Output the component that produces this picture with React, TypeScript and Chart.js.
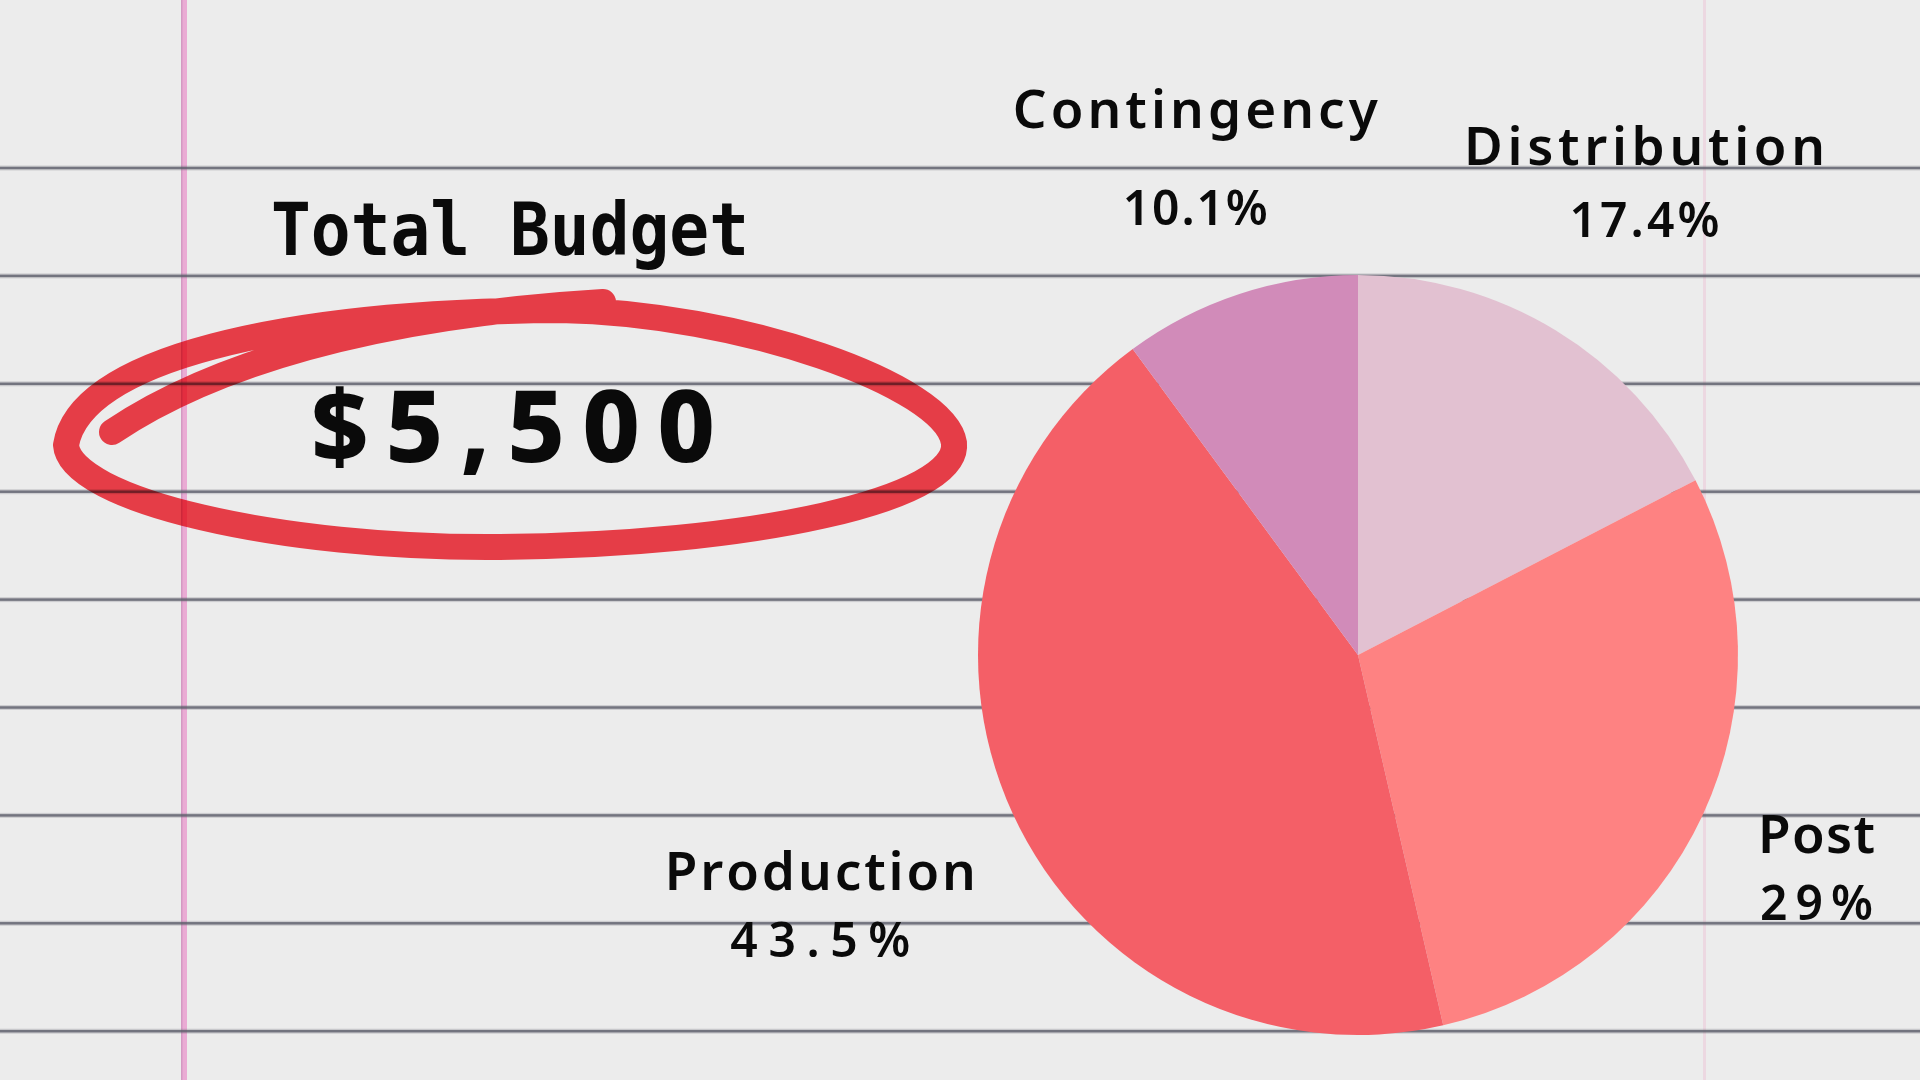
import React, { useEffect, useRef } from "react";
import { Chart, registerables } from "chart.js";

Chart.register(...registerables);

// ---- data ----
const categories = ["Distribution", "Post", "Production", "Contingency"];
const shares = [17.4, 29, 43.5, 10.1];
const percentLabels = ["17.4%", "29%", "43.5%", "10.1%"];
const sliceColors = ["#e2c1d1", "#fe8282", "#f45f67", "#d18bb9"];
const totalTitle = "Total Budget";
const totalValue = "$5,500";

// ---- style / placement (not data) ----
const W = 1920;
const H = 1080;
const labelPlacement = [
  { k: 1.41, dx: 8, dy: 4, gap: 72, nameW: 361, pctW: 150 },
  { k: 1.35, dx: -7, dy: 16, gap: 67, nameW: 117, pctW: 113 },
  { k: 1.58, dx: 8, dy: 18, gap: 67, nameW: 311, pctW: 180 },
  { k: 1.33, dx: -5, dy: 2, gap: 97, nameW: 365, pctW: 145 },
];

function drawSpaced(ctx: CanvasRenderingContext2D, text: string, cx: number, y: number, target: number) {
  const chars = Array.from(text);
  const widths = chars.map((c) => ctx.measureText(c).width);
  const sum = widths.reduce((a, b) => a + b, 0);
  const n = chars.length;
  const sp = n > 1 ? (target - sum) / (n - 1) : 0;
  let x = cx - target / 2;
  ctx.textAlign = "left";
  chars.forEach((c, i) => {
    ctx.fillText(c, x, y);
    x += widths[i] + sp;
  });
}

const paperPlugin = {
  id: "paper",
  beforeDraw(chart: any) {
    const ctx: CanvasRenderingContext2D = chart.ctx;
    ctx.save();
    ctx.fillStyle = "#ececec";
    ctx.fillRect(0, 0, W, H);
    // faint right margin
    ctx.fillStyle = "rgba(236,196,214,0.5)";
    ctx.fillRect(1703, 0, 3, H);
    // left margin (pink)
    ctx.fillStyle = "rgba(234,160,208,0.85)";
    ctx.fillRect(181, 0, 6, H);
    ctx.fillStyle = "rgba(170,120,160,0.35)";
    ctx.fillRect(181, 0, 1.5, H);
    // ruled lines
    for (let i = 0; i < 9; i++) {
      const y = 168 + i * 107.9;
      ctx.fillStyle = "rgba(110,112,122,0.25)";
      ctx.fillRect(0, y - 2.5, W, 5);
      ctx.fillStyle = "rgba(92,94,106,0.8)";
      ctx.fillRect(0, y - 1.25, W, 2.5);
    }
    ctx.restore();
  },
  afterDraw(chart: any) {
    const ctx: CanvasRenderingContext2D = chart.ctx;
    ctx.save();

    // red hand-drawn loop
    ctx.globalCompositeOperation = "multiply";
    ctx.strokeStyle = "rgb(248,66,76)";
    ctx.lineWidth = 26;
    ctx.lineCap = "round";
    ctx.lineJoin = "round";
    ctx.beginPath();
    ctx.moveTo(66, 445);
    ctx.bezierCurveTo(80, 360, 280, 312, 560, 310);
    ctx.bezierCurveTo(740, 313, 945, 385, 954, 443);
    ctx.bezierCurveTo(960, 500, 750, 545, 500, 547);
    ctx.bezierCurveTo(280, 549, 70, 500, 66, 445);
    ctx.closePath();
    ctx.moveTo(112, 432);
    ctx.bezierCurveTo(210, 366, 370, 316, 603, 302);
    ctx.stroke();
    ctx.globalCompositeOperation = "source-over";

    // Total Budget
    ctx.fillStyle = "#0a0a0a";
    ctx.textBaseline = "alphabetic";
    ctx.font = 'bold 73px "DejaVu Sans Mono"';
    const tw = ctx.measureText(totalTitle).width;
    ctx.save();
    ctx.translate(510, 255);
    ctx.scale(478 / tw, 1);
    ctx.textAlign = "center";
    ctx.fillText(totalTitle, 0, 0);
    ctx.restore();

    // $5,500
    ctx.font = '800 100px "Noto Sans"';
    drawSpaced(ctx, totalValue, 513, 462, 404);

    // slice labels
    const meta = chart.getDatasetMeta(0);
    meta.data.forEach((arc: any, i: number) => {
      const p = arc.getProps(["x", "y", "startAngle", "endAngle", "outerRadius"], true);
      const mid = (p.startAngle + p.endAngle) / 2;
      const lp = labelPlacement[i];
      const ax = p.x + Math.cos(mid) * p.outerRadius * lp.k + lp.dx;
      const ay = p.y + Math.sin(mid) * p.outerRadius * lp.k + lp.dy;
      ctx.fillStyle = "#0a0a0a";
      ctx.font = '600 53px "Noto Sans"';
      drawSpaced(ctx, categories[i], ax, ay - lp.gap / 2, lp.nameW);
      ctx.font = '600 48px "Noto Sans"';
      drawSpaced(ctx, percentLabels[i], ax, ay + lp.gap / 2, lp.pctW);
    });

    ctx.restore();
  },
};

export default function App() {
  const ref = useRef<HTMLCanvasElement | null>(null);
  useEffect(() => {
    if (!ref.current) return;
    const chart = new Chart(ref.current, {
      type: "pie",
      data: {
        labels: categories,
        datasets: [
          {
            data: shares,
            backgroundColor: sliceColors,
            borderWidth: 0,
          },
        ],
      },
      options: {
        responsive: false,
        animation: false,
        devicePixelRatio: 1,
        layout: { padding: { left: 978, right: 182, top: 275, bottom: 45 } },
        plugins: {
          legend: { display: false },
          tooltip: { enabled: false },
        },
      },
      plugins: [paperPlugin],
    });
    return () => chart.destroy();
  }, []);
  return (
    <div style={{ position: "fixed", left: 0, top: 0, width: W, height: H }}>
      <canvas ref={ref} width={W} height={H} style={{ display: "block" }} />
    </div>
  );
}
